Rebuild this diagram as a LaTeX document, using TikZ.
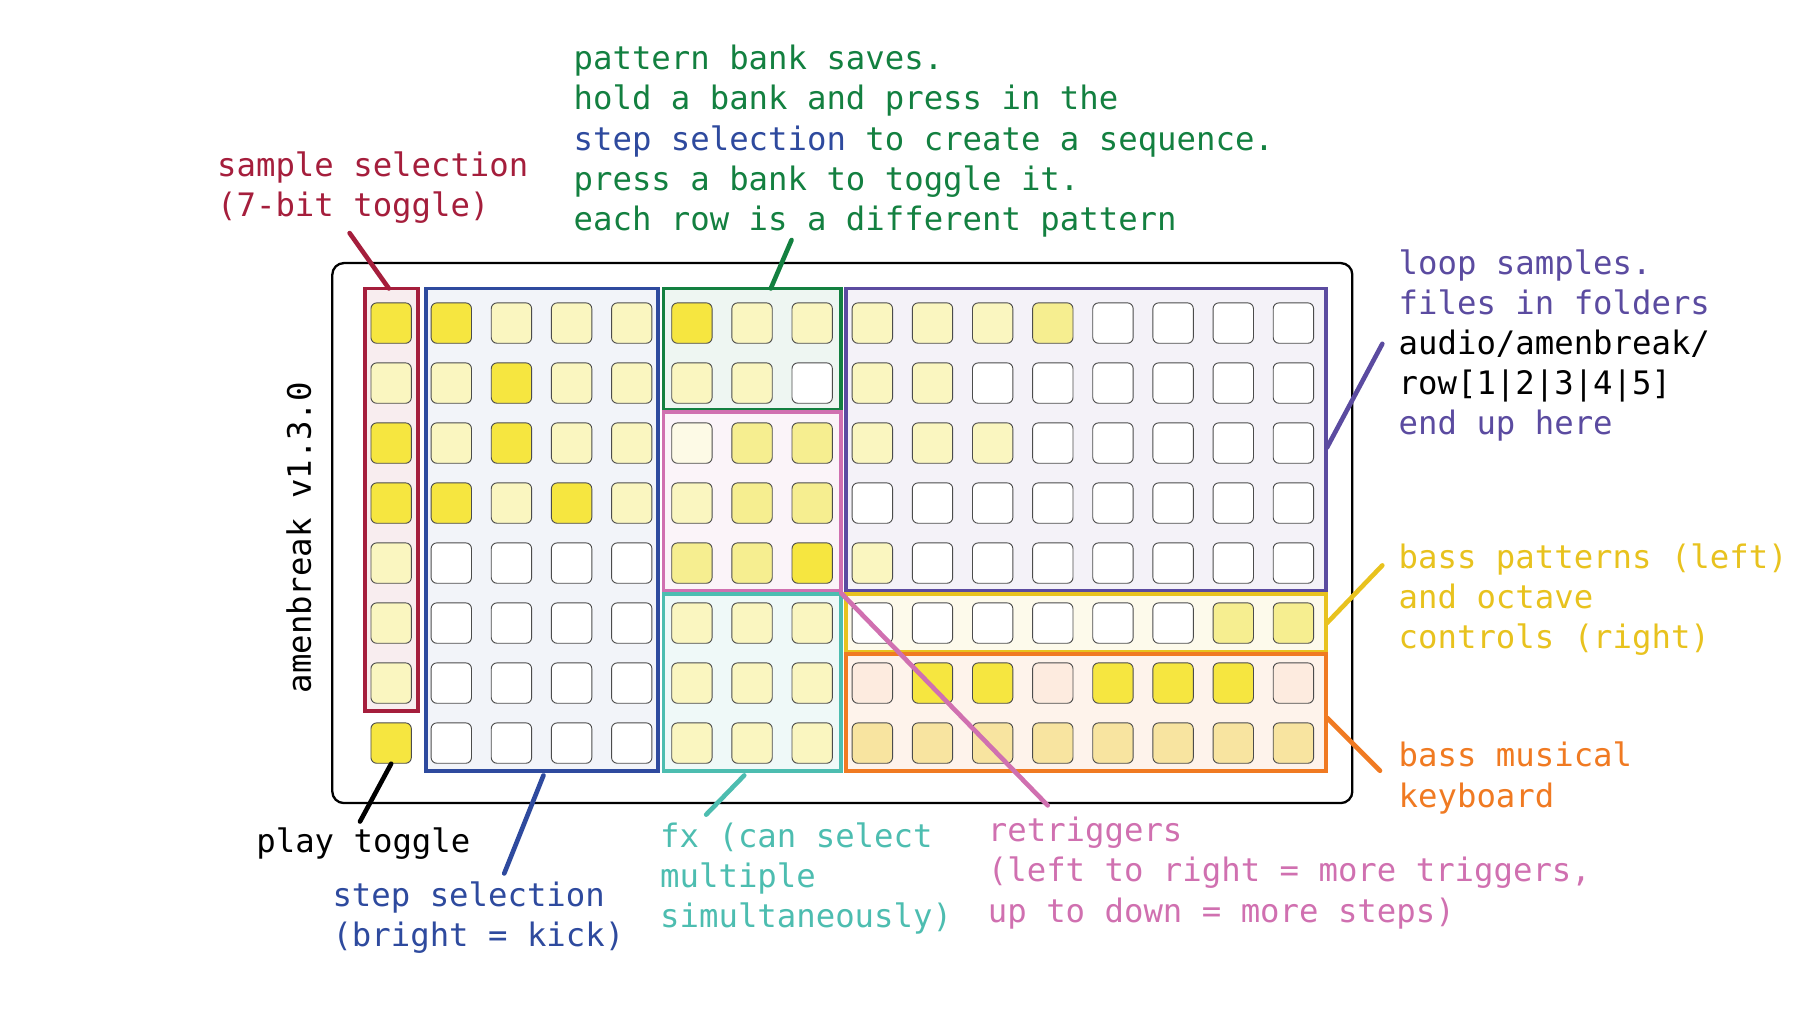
\documentclass[tikz,border=0pt]{standalone}
\usepackage{fontspec}
\setmonofont{DejaVu Sans Mono}
\begin{document}
\begin{tikzpicture}[x=1pt,y=-1pt,line cap=round,
  lbl/.style={font=\ttfamily\fontsize{28}{34.8}\selectfont,align=left,anchor=north west,inner sep=0pt},
  reg/.style={line width=3.4pt},
  lead/.style={line width=4pt},
  btn/.style={draw=black!70,line width=0.8pt,rounded corners=5pt,minimum size=35pt,inner sep=0pt}]
\definecolor{cr}{HTML}{A51E3C}\definecolor{cb}{HTML}{2E4A9E}\definecolor{cg}{HTML}{138040}
\definecolor{cp}{HTML}{5B4BA0}\definecolor{cy}{HTML}{E8C21E}\definecolor{co}{HTML}{F07A22}
\definecolor{ct}{HTML}{4DBDB0}\definecolor{ck}{HTML}{D070B0}
\definecolor{bw}{HTML}{FFFFFF}\definecolor{bp}{HTML}{FAF6C0}\definecolor{bm}{HTML}{F6EE90}
\definecolor{bb}{HTML}{F6E640}\definecolor{bv}{HTML}{FDFAE6}\definecolor{bt}{HTML}{F8E4A0}\definecolor{be}{HTML}{FDEBDF}
\useasboundingbox (0,0) rectangle (1560,883);
\draw[line width=2pt,rounded corners=10pt] (288,228) rectangle (1172,696);
\draw[reg,draw=cr,fill=cr!8] (316,250) rectangle (362,616);
\draw[reg,draw=cb,fill=cb!6] (369,250) rectangle (570,668);
\draw[reg,draw=cg,fill=cg!7] (575,250) rectangle (729,355);
\draw[reg,draw=ck,fill=ck!8] (575,357) rectangle (729,512);
\draw[reg,draw=ct,fill=ct!9] (575,515) rectangle (729,668);
\draw[reg,draw=cp,fill=cp!7] (733,250) rectangle (1149,512);
\draw[reg,draw=cy,fill=cy!9] (733,515) rectangle (1149,565);
\draw[reg,draw=co,fill=co!9] (733,567) rectangle (1149,668);
\def\rows{{
{"bb","bb","bp","bp","bp","bb","bp","bp","bp","bp","bp","bm","bw","bw","bw","bw"},
{"bp","bp","bb","bp","bp","bp","bp","bw","bp","bp","bw","bw","bw","bw","bw","bw"},
{"bb","bp","bb","bp","bp","bv","bm","bm","bp","bp","bp","bw","bw","bw","bw","bw"},
{"bb","bb","bp","bb","bp","bp","bm","bm","bw","bw","bw","bw","bw","bw","bw","bw"},
{"bp","bw","bw","bw","bw","bm","bm","bb","bp","bw","bw","bw","bw","bw","bw","bw"},
{"bp","bw","bw","bw","bw","bp","bp","bp","bw","bw","bw","bw","bw","bw","bm","bm"},
{"bp","bw","bw","bw","bw","bp","bp","bp","be","bb","bb","be","bb","bb","bb","be"},
{"bb","bw","bw","bw","bw","bp","bp","bp","bt","bt","bt","bt","bt","bt","bt","bt"}}}
\foreach \r in {0,...,7}{\foreach \c in {0,...,15}{
  \pgfmathsetmacro{\col}{\rows[\r][\c]}
  \node[btn,fill=\col] (b\r-\c) at ({339+52.13*\c},{280+52*\r}) {};}}
\node[rotate=90,font=\ttfamily\fontsize{28}{34}\selectfont] (ver) at (259,466) {amenbreak v1.3.0};
\node[lbl,text=cr] (ls) at (188,131) {sample selection\\(7-bit toggle)};
\coordinate (ls1) at (303,202); \coordinate (ls2) at (337,250);
\draw[lead,cr] (ls1) -- (ls2);
\node[lbl,text=cg] (lg) at (497,39) {pattern bank saves.\\hold a bank and press in the\\\textcolor{cb}{step selection} to create a sequence.\\press a bank to toggle it.\\each row is a different pattern};
\coordinate (lg1) at (686,208); \coordinate (lg2) at (668,250);
\draw[lead,cg] (lg1) -- (lg2);
\node[lbl,text=cp] (lp) at (1212,216) {loop samples.\\files in folders\\\textcolor{black}{audio/amenbreak/}\\\textcolor{black}{row[1|2|3|4|5]}\\end up here};
\coordinate (lp1) at (1198,298); \coordinate (lp2) at (1150,388);
\draw[lead,cp] (lp1) -- (lp2);
\node[lbl,text=cy] (ly) at (1212,471) {bass patterns (left)\\and octave\\controls (right)};
\coordinate (ly1) at (1198,490); \coordinate (ly2) at (1150,540);
\draw[lead,cy] (ly1) -- (ly2);
\node[lbl,text=co] (lo) at (1212,643) {bass musical\\keyboard};
\coordinate (lo1) at (1150,622); \coordinate (lo2) at (1196,668);
\draw[lead,co] (lo1) -- (lo2);
\node[lbl] (lk) at (222,717) {play toggle};
\draw[lead] (b7-0.south) -- (312,712);
\node[lbl,text=cb] (lb) at (288,764) {step selection\\(bright = kick)};
\coordinate (lb1) at (471,672); \coordinate (lb2) at (437,757);
\draw[lead,cb] (lb1) -- (lb2);
\node[lbl,text=ct] (lt) at (572,713) {fx (can select\\multiple\\simultaneously)};
\coordinate (lt1) at (645,672); \coordinate (lt2) at (612,706);
\draw[lead,ct] (lt1) -- (lt2);
\node[lbl,text=ck] (lr) at (856,708) {retriggers\\(left to right = more triggers,\\up to down = more steps)};
\coordinate (lr1) at (729,514); \coordinate (lr2) at (908,698);
\draw[lead,ck] (lr1) -- (lr2);
\end{tikzpicture}
\end{document}
